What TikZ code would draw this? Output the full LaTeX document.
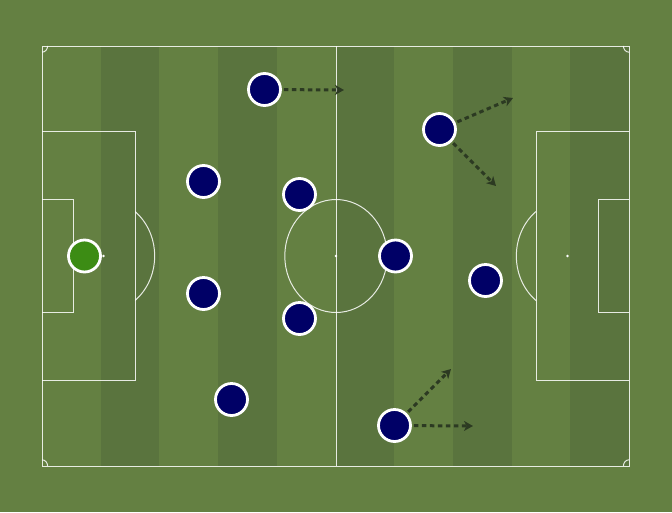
\documentclass[tikz,border=0pt]{standalone}
\usepackage{tikz}
\usetikzlibrary{arrows.meta,shadows}

\definecolor{grass}{RGB}{100,128,66}
\definecolor{stripe}{RGB}{90,116,62}
\definecolor{navy}{RGB}{0,0,102}
\definecolor{keeper}{RGB}{60,140,20}
\definecolor{runcol}{RGB}{44,58,34}

\tikzset{
    pitchline/.style={draw=white, draw opacity=0.85, line width=1pt},
    player/.style={circle, draw=white, line width=2.8pt, fill=navy, minimum size=32pt, inner sep=0pt,
        drop shadow={opacity=0.25, shadow xshift=0.6pt, shadow yshift=-1.2pt}},
    goalie/.style={player, fill=keeper},
    run/.style={draw=runcol, line width=3pt, dash pattern=on 4.5pt off 3.5pt, -{Stealth[length=9pt,width=10pt,inset=2.5pt]}, shorten <=2pt}
}

\begin{document}
\begin{tikzpicture}[x=1pt,y=-1pt]
    \useasboundingbox[fill=grass](0,0) rectangle (672,512);

    % stripes
    \foreach \i in {1,3,5,7,9}
        \fill[stripe](42+58.7*\i,46) rectangle (42+58.7*\i+58.7,466);

    % pitch
    \draw[pitchline](42,46) rectangle (629,466);
    \draw[pitchline](336,46)--(336,466);
    \draw[pitchline](336,256) ellipse (51.2 and 56.5);
    \fill[white](336,256) circle(1.3pt);

    % left end
    \draw[pitchline](42,131)--(135,131)--(135,380)--(42,380);
    \draw[pitchline](42,199.5)--(73,199.5)--(73,312)--(42,312);
    \fill[white](103.5,256) circle(1.3pt);
    \begin{scope}
        \clip(135,0) rectangle (300,512);
        \draw[pitchline](103.5,256) ellipse (51.2 and 56.5);
    \end{scope}

    % right end
    \draw[pitchline](629,131)--(536,131)--(536,380)--(629,380);
    \draw[pitchline](629,199.5)--(598,199.5)--(598,312)--(629,312);
    \fill[white](567.5,256) circle(1.3pt);
    \begin{scope}
        \clip(400,0) rectangle (536,512);
        \draw[pitchline](567.5,256) ellipse (51.2 and 56.5);
    \end{scope}

    % corners
    \draw[pitchline](47.6,46) arc[start angle=0, end angle=-90, x radius=5.6, y radius=-6.2];
    \draw[pitchline](623.4,46) arc[start angle=180, end angle=270, x radius=5.6, y radius=-6.2];
    \draw[pitchline](47.6,466) arc[start angle=0, end angle=90, x radius=5.6, y radius=-6.2];
    \draw[pitchline](623.4,466) arc[start angle=180, end angle=90, x radius=5.6, y radius=-6.2];

    % players
    \node[goalie](gk) at (84.5,256) {};
    \node[player](p1) at (264.5,89.5) {};
    \node[player](p2) at (203.5,181.5) {};
    \node[player](p3) at (299.5,194.5) {};
    \node[player](p4) at (203.5,293.5) {};
    \node[player](p5) at (299.5,318.5) {};
    \node[player](p6) at (231.5,399.5) {};
    \node[player](p7) at (439.5,129.5) {};
    \node[player](p8) at (395.5,256) {};
    \node[player](p9) at (485.5,280.5) {};
    \node[player](p10) at (394.5,425.5) {};

    % runs
    \coordinate (r1) at (344,90);
    \coordinate (r7a) at (513,98);
    \coordinate (r7b) at (496,186);
    \coordinate (r10a) at (451,369);
    \coordinate (r10b) at (473,426);
    \draw[run](p1)--(r1);
    \draw[run](p7)--(r7a);
    \draw[run](p7)--(r7b);
    \draw[run](p10)--(r10a);
    \draw[run](p10)--(r10b);
\end{tikzpicture}
\end{document}
